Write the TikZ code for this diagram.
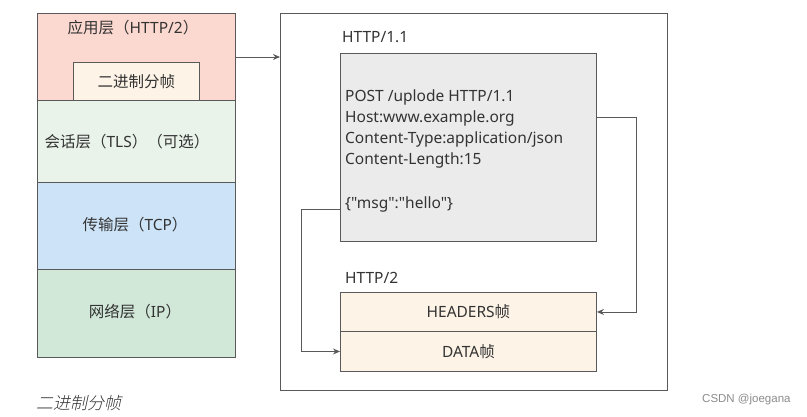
\documentclass[tikz,border=0pt]{standalone}
\usepackage{fontspec}
\setmainfont{Noto Sans}[Ligatures=TeXOff]
\newfontfamily\cjk{Noto Sans CJK SC}
\newfontfamily\capfont[FakeSlant=0.22]{Noto Sans CJK SC Light}
\newfontfamily\wmfont{Liberation Sans}
\usetikzlibrary{arrows.meta}
\definecolor{edge}{HTML}{595959}
\definecolor{txt}{HTML}{333333}
\definecolor{appc}{HTML}{FCD9D0}
\definecolor{framec}{HTML}{FDF3E7}
\definecolor{sessc}{HTML}{E9F3EA}
\definecolor{tranc}{HTML}{CDE3F7}
\definecolor{netc}{HTML}{D1E8D9}
\definecolor{grayc}{HTML}{EBEBEB}
\tikzset{
  box/.style={draw=edge, line width=0.9pt, rectangle, inner sep=0pt, anchor=north west},
  lbl/.style={inner sep=0pt, text=txt, font=\fontsize{15.5}{18}\selectfont},
  codeline/.style={inner sep=0pt, anchor=base west, text=txt, font=\fontsize{15.5}{18}\selectfont},
  conn/.style={draw=edge, line width=0.9pt, -{Stealth[length=7pt,width=6pt]}},
}
\begin{document}
\begin{tikzpicture}[x=1pt,y=1pt]
\useasboundingbox (0,0) rectangle (807,-416);
\fill[white] (0,0) rectangle (807,-416);
% left stack
\node[box, fill=appc, minimum width=198pt, minimum height=87pt] (app) at (37,-13) {};
\node[box, fill=sessc, minimum width=198pt, minimum height=82pt] (sess) at (37,-100) {};
\node[box, fill=tranc, minimum width=198pt, minimum height=87pt] (tran) at (37,-182) {};
\node[box, fill=netc, minimum width=198pt, minimum height=88pt] (net) at (37,-269) {};
\node[box, fill=framec, minimum width=126pt, minimum height=38pt] (bin) at (73,-62) {};
\node[lbl] (applbl) at (133,-28) {{\cjk 应用层（}HTTP/2{\cjk ）}};
\node[lbl] (binlbl) at (bin.center) {\cjk 二进制分帧};
\node[lbl] (sesslbl) at (127,-142) {{\cjk 会话层（}TLS{\cjk ）（可选）}};
\node[lbl] (tranlbl) at (135,-225) {{\cjk 传输层（}TCP{\cjk ）}};
\node[lbl] (netlbl) at (135,-312) {{\cjk 网络层（}IP{\cjk ）}};
% right big box
\node[box, draw=edge, line width=0.7pt, minimum width=387pt, minimum height=377pt] (big) at (280,-13) {};
\node[codeline] (h11) at (342,-42) {HTTP/1.1};
\node[box, fill=grayc, minimum width=256pt, minimum height=188pt] (gray) at (340,-53) {};
\node[codeline] (l1) at (345,-101) {POST /uplode HTTP/1.1};
\node[codeline] (l2) at (345,-122) {Host:www.example.org};
\node[codeline] (l3) at (345,-143) {Content-Type:application/json};
\node[codeline] (l4) at (345,-164) {Content-Length:15};
\node[codeline] (l5) at (345,-208) {\{"msg":"hello"\}};
\node[codeline] (h2) at (345,-283) {HTTP/2};
\node[box, fill=framec, minimum width=256pt, minimum height=39pt] (headers) at (340,-292) {};
\node[box, fill=framec, minimum width=256pt, minimum height=40pt] (data) at (340,-331) {};
\node[lbl] (hdrlbl) at (headers.center) {HEADERS{\cjk 帧}};
\node[lbl] (datalbl) at (data.center) {DATA{\cjk 帧}};
% connectors
\coordinate (a) at (236,-57);
\draw[conn] (app.east |- a) -- (big.west |- a);
\coordinate (r) at (636,-117);
\draw[conn] (gray.east |- r) -- (r) |- (headers.east);
\coordinate (l) at (301,-209);
\draw[conn] (gray.west |- l) -- (l) |- (data.west);
% caption and watermark
\node[inner sep=0pt, anchor=west, text=txt, font=\capfont\fontsize{17}{20}\selectfont] (cap) at (36,-403) {二进制分帧};
\node[inner sep=0pt, anchor=west, text=black!45, font=\wmfont\fontsize{11.5}{13}\selectfont] (wm) at (702,-400) {CSDN @joegana};
\end{tikzpicture}
\end{document}
